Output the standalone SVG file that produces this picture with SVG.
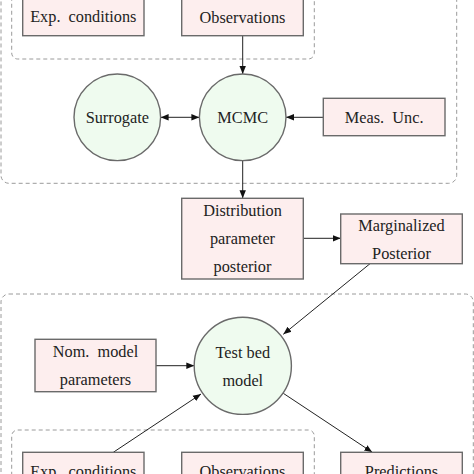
<svg xmlns="http://www.w3.org/2000/svg" width="474" height="474" viewBox="0 0 474 474">
<style>
.box{fill:#fdeeee;stroke:#6a6a6a;stroke-width:1.4}
.circ{fill:#effbef;stroke:#6a6a6a;stroke-width:1.4}
.grp{fill:none;stroke:#9a9a9a;stroke-width:1;stroke-dasharray:4 3}
.edge{fill:none;stroke:#222;stroke-width:1}
text{font-family:"Liberation Serif","DejaVu Serif",serif;font-size:16.3px;fill:#222;text-anchor:middle;dominant-baseline:central}
</style>
<defs>
<marker id="ah" viewBox="0 0 10 10" refX="10" refY="5" markerWidth="8" markerHeight="8" markerUnits="userSpaceOnUse" orient="auto-start-reverse">
<path d="M0,1 L10,5 L0,9 Z" fill="#111"/>
</marker>
</defs>
<rect x="0" width="474" height="474" fill="#fff"/>
<g id="groups">
<rect class="grp" x="1" y="-20" width="455.7" height="203.3" rx="8"/>
<rect class="grp" x="11.7" y="-20" width="302.6" height="79" rx="6"/>
<rect class="grp" x="1" y="294" width="472.3" height="200" rx="8"/>
<rect class="grp" x="11.7" y="430" width="302.6" height="60" rx="6"/>
</g>
<g id="edges">
<line class="edge" x1="242.7" y1="35.7" x2="242.7" y2="74" marker-end="url(#ah)"/>
<line class="edge" x1="160.6" y1="117.3" x2="199.4" y2="117.3" marker-start="url(#ah)" marker-end="url(#ah)"/>
<line class="edge" x1="323.3" y1="117.3" x2="286" y2="117.3" marker-end="url(#ah)"/>
<line class="edge" x1="242.7" y1="160.6" x2="242.7" y2="198.3" marker-end="url(#ah)"/>
<line class="edge" x1="303.3" y1="238.3" x2="340.7" y2="238.3" marker-end="url(#ah)"/>
<line class="edge" x1="370" y1="263.7" x2="283.3" y2="334.3" marker-end="url(#ah)"/>
<line class="edge" x1="156" y1="365.7" x2="194.3" y2="365.7" marker-end="url(#ah)"/>
<line class="edge" x1="113.3" y1="452.3" x2="201" y2="394" marker-end="url(#ah)"/>
<line class="edge" x1="283.3" y1="393.3" x2="372.3" y2="452.3" marker-end="url(#ah)"/>
</g>
<g id="exp1"><rect class="box" x="22.7" y="-1.7" width="121.3" height="37.4"/><text x="83.3" y="16.5">Exp.&#160; conditions</text></g>
<g id="obs1"><rect class="box" x="181.7" y="-1.7" width="121.6" height="37.4"/><text x="242.5" y="17.5">Observations</text></g>
<g id="surrogate"><circle class="circ" cx="117.3" cy="117.3" r="43.3"/><text x="117.3" y="117.3">Surrogate</text></g>
<g id="mcmc"><circle class="circ" cx="242.7" cy="117.3" r="43.3"/><text x="242.7" y="117.3">MCMC</text></g>
<g id="measunc"><rect class="box" x="323.3" y="98.3" width="121.7" height="37.4"/><text x="384.2" y="117.3">Meas.&#160; Unc.</text></g>
<g id="distpost"><rect class="box" x="181.7" y="198.3" width="121.6" height="80.7"/><text x="242.5" y="210">Distribution</text><text x="242.5" y="238.3">parameter</text><text x="242.5" y="266">posterior</text></g>
<g id="margpost"><rect class="box" x="340.7" y="214" width="121.6" height="49.7"/><text x="401.5" y="225.7">Marginalized</text><text x="401.5" y="253.7">Posterior</text></g>
<g id="testbed"><circle class="circ" cx="242.8" cy="365.8" r="48.6"/><text x="242.8" y="352">Test bed</text><text x="242.8" y="380">model</text></g>
<g id="nommodel"><rect class="box" x="35" y="339.3" width="121" height="52.4"/><text x="95.5" y="351">Nom.&#160; model</text><text x="95.5" y="379.3">parameters</text></g>
<g id="exp2"><rect class="box" x="22.7" y="452.3" width="121.3" height="37.4"/><text x="83.3" y="471">Exp.&#160; conditions</text></g>
<g id="obs2"><rect class="box" x="181.7" y="452.3" width="121.6" height="37.4"/><text x="242.5" y="471.5">Observations</text></g>
<g id="pred"><rect class="box" x="340.7" y="452.3" width="121.6" height="37.4"/><text x="401.5" y="471.5">Predictions</text></g>
</svg>
